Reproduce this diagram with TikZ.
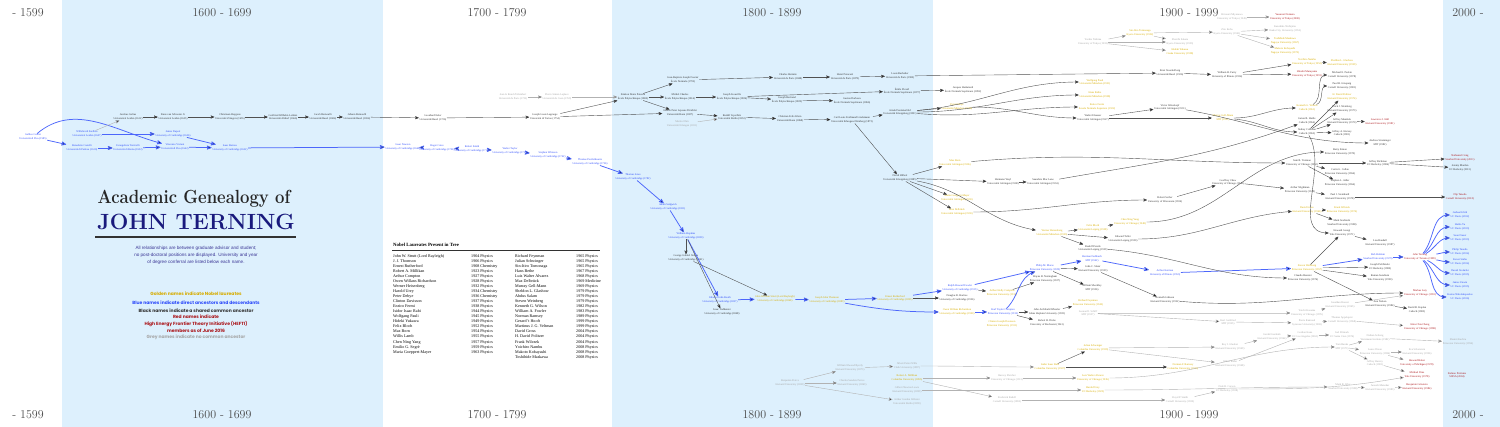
\documentclass[tikz,border=0pt]{standalone}
\usepackage{fontspec}
\newfontfamily\tnr{Liberation Serif}
\newfontfamily\keyfont{Poppins}
\newfontfamily\notefont{Liberation Sans}
\usetikzlibrary{arrows}

\definecolor{bandblue}{RGB}{221,240,253}
\definecolor{ancblue}{RGB}{45,75,250}
\definecolor{nobelgold}{RGB}{214,172,0}
\definecolor{heftired}{RGB}{170,20,25}
\definecolor{sharedgrey}{RGB}{50,50,50}
\definecolor{nonegrey}{RGB}{165,165,165}
\definecolor{titleblue}{RGB}{26,26,125}
\definecolor{notepurple}{RGB}{60,55,150}
\definecolor{headgrey}{RGB}{75,75,75}

\begin{document}
\begin{tikzpicture}[x=1pt,y=-1pt,->,>=stealth',shorten >=0.4pt]
  \tikzstyle{person}=[font=\tnr\fontsize{2.7}{3.3}\selectfont,align=center,inner sep=0.4pt]
  \tikzstyle{anc}=[person,text=ancblue]
  \tikzstyle{nobel}=[person,text=nobelgold]
  \tikzstyle{hefti}=[person,text=heftired]
  \tikzstyle{shared}=[person,text=sharedgrey]
  \tikzstyle{nocommon}=[person,text=nonegrey]
  \tikzstyle{tie}=[draw=sharedgrey!85,line width=0.4pt]
  \tikzstyle{bluetie}=[draw=ancblue!85,line width=0.75pt]
  \tikzstyle{greytie}=[draw=nonegrey!85,line width=0.4pt]
  \tikzstyle{century}=[font=\fontsize{12}{12}\selectfont,text=headgrey]
  \tikzstyle{keyline}=[font=\keyfont\bfseries\fontsize{4.5}{6.8}\selectfont,align=center]

  \useasboundingbox (0,0) rectangle (1500,427);
  \fill[bandblue] (62,0) rectangle (383,427);
  \fill[bandblue] (612,0) rectangle (933,427);
  \fill[bandblue] (1443,0) rectangle (1500,427);

  \node[century] (t1) at (28,13) {- 1599};
  \node[century] (t2) at (222,13) {1600 - 1699};
  \node[century] (t3) at (497,13) {1700 - 1799};
  \node[century] (t4) at (772,13) {1800 - 1899};
  \node[century] (t5) at (1189,13) {1900 - 1999};
  \node[century] (t6) at (1468,13) {2000 -};
  \node[century] (u1) at (28,415) {- 1599};
  \node[century] (u2) at (222,415) {1600 - 1699};
  \node[century] (u3) at (497,415) {1700 - 1799};
  \node[century] (u4) at (772,415) {1800 - 1899};
  \node[century] (u5) at (1189,415) {1900 - 1999};
  \node[century] (u6) at (1468,415) {2000 -};

  \node[font=\bfseries\fontsize{19}{19}\selectfont,text=black!85] (title) at (194,199) {\scalebox{0.88}[1]{Academic Genealogy of}};
  \node[font=\bfseries\addfontfeature{LetterSpace=2}\fontsize{22}{22}\selectfont,text=titleblue] (name) at (196,222) {JOHN TERNING};
  \draw[-,line width=1.3pt,sharedgrey] (95,237) -- (296,237);
  \node[font=\notefont\fontsize{4.6}{7}\selectfont,text=notepurple,align=center] (note) at (196,255)
    {All relationships are between graduate advisor and student;\\no post-doctoral positions are displayed. University and year\\of degree conferral are listed below each name.};
  \node[keyline,text=nobelgold] (key1) at (196,294) {Golden names indicate Nobel laureates};
  \node[keyline,text=ancblue] (key2) at (196,303) {Blue names indicate direct ancestors and descendants};
  \node[keyline,text=sharedgrey] (key3) at (196,311) {Black names indicate a shared common ancestor};
  \node[keyline,text=heftired] (key4) at (196,324) {Red names indicate\\High Energy Frontier Theory Initiative (HEFTI)\\members as of June 2016};
  \node[keyline,text=nonegrey] (key5) at (196,337) {Grey names indicate no common ancestor};

  \node[anchor=base west,inner sep=0,font=\tnr\bfseries\fontsize{4.8}{5}\selectfont] (nobelhead) at (393,246.5) {Nobel Laureates Present in Tree};
  \draw[-,line width=1.5pt,sharedgrey] (392,250.6) -- (600,250.6);
  \node[anchor=base west,inner sep=0,font=\tnr\fontsize{4.1}{5.05}\selectfont] (nobeltab) at (393,257.2) {%
    \begin{tabular}[t]{@{}p{78pt}@{}p{44pt}@{}p{61pt}@{}l@{}}
    John W. Strutt (Lord Rayleigh) & 1904 Physics & Richard Feynman & 1965 Physics\\
    J. J. Thomson & 1906 Physics & Julian Schwinger & 1965 Physics\\
    Ernest Rutherford & 1908 Chemistry & Sin-Itiro Tomonaga & 1965 Physics\\
    Robert A. Millikan & 1923 Physics & Hans Bethe & 1967 Physics\\
    Arthur Compton & 1927 Physics & Luis Walter Alvarez & 1968 Physics\\
    Owen Willans Richardson & 1928 Physics & Max Delbrück & 1969 Medicine\\
    Werner Heisenberg & 1932 Physics & Murray Gell-Mann & 1969 Physics\\
    Harold Urey & 1934 Chemistry & Sheldon L. Glashow & 1979 Physics\\
    Peter Debye & 1936 Chemistry & Abdus Salam & 1979 Physics\\
    Clinton Davisson & 1937 Physics & Steven Weinberg & 1979 Physics\\
    Enrico Fermi & 1938 Physics & Kenneth G. Wilson & 1982 Physics\\
    Isidor Isaac Rabi & 1944 Physics & William A. Fowler & 1983 Physics\\
    Wolfgang Pauli & 1945 Physics & Norman Ramsey & 1989 Physics\\
    Hideki Yukawa & 1949 Physics & Gerard 't Hooft & 1999 Physics\\
    Felix Bloch & 1952 Physics & Martinus J. G. Veltman & 1999 Physics\\
    Max Born & 1954 Physics & David Gross & 2004 Physics\\
    Willis Lamb & 1955 Physics & H. David Politzer & 2004 Physics\\
    Chen Ning Yang & 1957 Physics & Frank Wilczek & 2004 Physics\\
    Emilio G. Segrè & 1959 Physics & Yoichiro Nambu & 2008 Physics\\
    Maria Goeppert-Mayer & 1963 Physics & Makoto Kobayashi & 2008 Physics\\
     & & Toshihide Maskawa & 2008 Physics
    \end{tabular}};

  \node[anc] (a1) at (33,137) {Galileo Galilei\\Università di Pisa (1585)};
  \node[anc] (a2) at (87,134) {Willebrord Snellius\\Universiteit Leiden (1607)};
  \node[anc] (a3) at (82,148) {Benedetto Castelli\\Università di Padova (1610)};
  \node[shared] (a4) at (128,117) {Jacobus Golius\\Universiteit Leiden (1612)};
  \node[shared] (a5) at (173,117) {Frans van Schooten Jr.\\Universiteit Leiden (1635)};
  \node[shared] (a6) at (230,117) {Christiaan Huygens\\Université d'Angers (1655)};
  \node[shared] (a7) at (283,117) {Gottfried Wilhelm Leibniz\\Universität Altdorf (1666)};
  \node[shared] (a8) at (323,117) {Jacob Bernoulli\\Universität Basel (1684)};
  \node[shared] (a9) at (357,117) {Johann Bernoulli\\Universität Basel (1694)};
  \node[anc] (a10) at (173,134) {James Duport\\University of Cambridge (1626)};
  \node[anc] (a11) at (128,148) {Evangelista Torricelli\\Università di Roma (1632)};
  \node[anc] (a12) at (175,147) {Vincenzo Viviani\\Università di Pisa (1642)};
  \node[anc] (a13) at (230,148) {Isaac Barrow\\University of Cambridge (1652)};

  \node[shared] (b1) at (433,118) {Leonhard Euler\\Universität Basel (1726)};
  \node[shared] (b2) at (545,117) {Joseph Louis Lagrange\\Università di Torino (1754)};
  \node[nocommon] (b3) at (513,97) {Jean le Rond d'Alembert\\Université de Paris (1735)};
  \node[nocommon] (b4) at (557,97) {Pierre-Simon Laplace\\Université de Caen (1769)};
  \node[anc] (b5) at (403,147) {Isaac Newton\\University of Cambridge (1668)};
  \node[anc] (b6) at (437,148) {Roger Cotes\\University of Cambridge (1706)};
  \node[anc] (b7) at (472,149) {Robert Smith\\University of Cambridge (1715)};
  \node[anc] (b8) at (510,151) {Walter Taylor\\University of Cambridge (1723)};
  \node[anc] (b9) at (548,155) {Stephen Whisson\\University of Cambridge (1742)};
  \node[anc] (b10) at (590,162) {Thomas Postlethwaite\\University of Cambridge (1756)};

  \node[shared] (c1) at (633,97) {Siméon Denis Poisson\\École Polytechnique (1800)};
  \node[shared] (c2) at (680,97) {Michel Chasles\\École Polytechnique (1814)};
  \node[shared] (c3) at (732,97) {Joseph Liouville\\École Polytechnique (1836)};
  \node[shared] (c4) at (787,100) {Joseph Bertrand\\École Polytechnique (1839)};
  \node[shared] (c5) at (680,113) {Gustav Peter Lejeune Dirichlet\\Universität Bonn (1827)};
  \node[shared] (c6) at (732,117) {Rudolf Lipschitz\\Universität Berlin (1853)};
  \node[nocommon] (c7) at (682,124) {Martin Ohm\\Universität Erlangen (1811)};
  \node[shared] (c8) at (790,119) {Christian Felix Klein\\Universität Bonn (1868)};
  \node[shared] (c9) at (852,120) {Carl Louis Ferdinand Lindemann\\Universität Erlangen-Nürnberg (1873)};
  \node[shared] (c10) at (900,112) {Arnold Sommerfeld\\Universität Königsberg (1891)};
  \node[shared] (c11) at (900,178) {David Hilbert\\Universität Königsberg (1885)};
  \node[shared] (c12) at (788,77) {Charles Hermite\\Université de Paris (1848)};
  \node[shared] (c13) at (845,77) {Henri Poincaré\\Université de Paris (1879)};
  \node[shared] (c14) at (900,76) {Louis Bachelier\\Université de Paris (1900)};
  \node[shared] (c15) at (852,101) {Gaston Darboux\\École Normale Supérieure (1866)};
  \node[shared] (c16) at (902,91) {Émile Picard\\École Normale Supérieure (1877)};
  \node[shared] (c17) at (963,90) {Jacques Hadamard\\École Normale Supérieure (1892)};
  \node[anc] (c18) at (633,177) {Thomas Jones\\University of Cambridge (1782)};
  \node[anc] (c19) at (668,207) {Adam Sedgwick\\University of Cambridge (1811)};
  \node[anc] (c20) at (686,236) {William Hopkins\\University of Cambridge (1830)};
  \node[shared] (c21) at (686,258) {George Gabriel Stokes\\University of Cambridge (1841)};
  \node[anc] (c22) at (720,300) {Edward John Routh\\University of Cambridge (1857)};
  \node[shared] (c23) at (722,312) {Isaac Todhunter\\University of Cambridge (1848)};
  \node[nobel] (c24) at (775,299) {John William Strutt (Lord Rayleigh)\\University of Cambridge (1868)};
  \node[nobel] (c25) at (827,300) {Joseph John Thomson\\University of Cambridge (1883)};
  \node[nobel] (c26) at (895,298) {Ernest Rutherford\\University of Cambridge (1895)};
  \node[nocommon] (c27) at (790,383) {Benjamin Peirce\\Harvard University (1829)};
  \node[nocommon] (c28) at (850,368) {William Elwood Byerly\\Harvard University (1873)};
  \node[nocommon] (c29) at (852,383) {Charles Sanders Peirce\\Harvard University (1863)};
  \node[nocommon] (c30) at (907,366) {Albert Potter Wills\\Clark University (1897)};
  \node[nobel] (c31) at (907,378) {Robert A. Millikan\\Columbia University (1895)};
  \node[nocommon] (c32) at (907,390) {Gilbert Newton Lewis\\Harvard University (1899)};
  \node[nocommon] (c33) at (907,402) {Arthur Gordon Webster\\Universität Berlin (1890)};
  \node[shared] (c34) at (683,80) {Jean-Baptiste Joseph Fourier\\École Normale (1795)};

  \node[nobel] (d1) at (957,107) {Peter Debye\\Universität München (1908)};
  \node[nobel] (d2) at (955,163) {Max Born\\Universität Göttingen (1906)};
  \node[nobel] (d3) at (957,198) {Maria Goeppert-Mayer\\Universität Göttingen (1930)};
  \node[nobel] (d4) at (957,212) {Max Delbrück\\Universität Göttingen (1930)};
  \node[shared] (d5) at (1003,182) {Hermann Weyl\\Universität Göttingen (1908)};
  \node[shared] (d6) at (1043,182) {Saunders Mac Lane\\Universität Göttingen (1934)};
  \node[nobel] (d7) at (1052,233) {Werner Heisenberg\\Universität München (1923)};
  \node[nobel] (d8) at (1093,228) {Felix Bloch\\Universität Leipzig (1928)};
  \node[shared] (d9) at (1123,239) {Edward Teller\\Universität Leipzig (1930)};
  \node[shared] (d10) at (1093,248) {Rudolf Peierls\\Universität Leipzig (1929)};
  \node[anc] (d11) at (960,288) {Ralph Howard Fowler\\University of Cambridge (1915)};
  \node[shared] (d12) at (957,298) {Douglas R. Hartree\\University of Cambridge (1926)};
  \node[nobel] (d13) at (957,312) {Owen Willans Richardson\\University of Cambridge (1900)};
  \node[nobel] (d14) at (1002,293) {Arthur Holly Compton\\Princeton University (1916)};
  \node[anc] (d15) at (1003,312) {Karl Taylor Compton\\Princeton University (1912)};
  \node[nobel] (d16) at (1002,324) {Clinton Joseph Davisson\\Princeton University (1911)};
  \node[anc] (d17) at (1045,268) {Philip M. Morse\\Princeton University (1929)};
  \node[anc] (d18) at (1092,259) {Herman Feshbach\\MIT (1942)};
  \node[shared] (d19) at (1093,269) {John C. Slater\\Harvard University (1923)};
  \node[shared] (d20) at (1045,279) {Wayne B. Nottingham\\Princeton University (1927)};
  \node[shared] (d21) at (1092,288) {William Shockley\\MIT (1936)};
  \node[nobel] (d22) at (1088,303) {Richard Feynman\\Princeton University (1942)};
  \node[nocommon] (d23) at (1088,313) {Leonard I. Schiff\\MIT (1937)};
  \node[shared] (d24) at (1047,312) {John Archibald Wheeler\\Johns Hopkins University (1933)};
  \node[shared] (d25) at (1047,323) {Robert H. Dicke\\University of Rochester (1941)};
  \node[nobel] (d26) at (1095,82) {Wolfgang Pauli\\Universität München (1921)};
  \node[nobel] (d27) at (1095,95) {Hans Bethe\\Universität München (1928)};
  \node[nobel] (d28) at (1097,107) {Enrico Fermi\\Scuola Normale Superiore (1922)};
  \node[shared] (d29) at (1093,118) {Walter Elsasser\\Universität Göttingen (1927)};
  \node[shared] (d30) at (1170,107) {Victor Weisskopf\\Universität Göttingen (1931)};
  \node[nobel] (d31) at (1223,118) {Murray Gell-Mann\\MIT (1951)};
  \node[shared] (d32) at (1170,73) {Ernst Stueckelberg\\Universität Basel (1926)};
  \node[shared] (d33) at (1227,75) {William H. Furry\\University of Illinois (1934)};
  \node[nocommon] (d34) at (1093,42) {Yoshio Nishina\\University of Tokyo (1918)};
  \node[nobel] (d35) at (1140,33) {Sin-Itiro Tomonaga\\Kyoto University (1932)};
  \node[nocommon] (d36) at (1180,42) {Shoichi Sakata\\Kyoto University (1933)};
  \node[nobel] (d37) at (1180,52) {Hideki Yukawa\\Osaka University (1938)};
  \node[nocommon] (d38) at (1227,32) {Ziro Koba\\Kyoto University (1941)};
  \node[nocommon] (d39) at (1007,378) {Harvey Fletcher\\University of Chicago (1911)};
  \node[nocommon] (d40) at (1007,400) {Frederick Bedell\\Cornell University (1892)};
  \node[nobel] (d41) at (1050,367) {Isidor Isaac Rabi\\Columbia University (1927)};
  \node[nobel] (d42) at (1093,348) {Julian Schwinger\\Columbia University (1939)};
  \node[nobel] (d43) at (1093,378) {Luis Walter Alvarez\\University of Chicago (1936)};
  \node[nobel] (d44) at (1093,390) {Harold Urey\\UC Berkeley (1923)};
  \node[nobel] (d45) at (1183,367) {Norman F. Ramsey\\Columbia University (1940)};
  \node[nocommon] (d46) at (1230,347) {Roy J. Glauber\\Harvard University (1949)};
  \node[nocommon] (d47) at (1230,364) {Walter Kohn\\Harvard University (1948)};
  \node[nocommon] (d48) at (1180,400) {Lloyd P. Smith\\Cornell University (1930)};
  \node[nocommon] (d49) at (1227,389) {Dale R. Corson\\UC Berkeley (1938)};
  \node[nocommon] (d50) at (1232,17) {Hironari Miyazawa\\University of Tokyo (1949)};
  \node[hefti] (d51) at (1285,17) {Yasunori Nomura\\University of Tokyo (2000)};
  \node[nocommon] (d52) at (1285,29) {Kazuhiko Nishijima\\Osaka City University (1955)};
  \node[nobel] (d53) at (1285,41) {Toshihide Maskawa\\Nagoya University (1967)};
  \node[nobel] (d54) at (1285,51) {Makoto Kobayashi\\Nagoya University (1972)};
  \node[nobel] (d55) at (1130,222) {Chen Ning Yang\\University of Chicago (1948)};
  \node[shared] (d56) at (1165,200) {Robert Serber\\University of Wisconsin (1934)};
  \node[anc] (d57) at (1165,273) {Arthur Kerman\\University of Illinois (1953)};
  \node[shared] (d58) at (1228,182) {Geoffrey Chew\\University of Chicago (1948)};
  \node[shared] (d59) at (1165,300) {Kenneth Johnson\\Harvard University (1952)};
  \node[nocommon] (d60) at (1228,322) {Kurt Gottfried\\MIT (1955)};

  \node[nobel] (e1) at (1307,62) {Yoichiro Nambu\\University of Tokyo (1952)};
  \node[nobel] (e2) at (1342,63) {Sheldon L. Glashow\\Harvard University (1959)};
  \node[hefti] (e3) at (1307,74) {Hitoshi Murayama\\University of Tokyo (1991)};
  \node[shared] (e4) at (1342,75) {Michael E. Peskin\\Cornell University (1978)};
  \node[shared] (e5) at (1342,86) {Paul H. Ginsparg\\Cornell University (1981)};
  \node[nobel] (e6) at (1342,97) {H. David Politzer\\Harvard University (1974)};
  \node[shared] (e7) at (1342,109) {Erick J. Weinberg\\Harvard University (1973)};
  \node[shared] (e8) at (1342,121) {Jeffrey Mandula\\Harvard University (1970)};
  \node[hefti] (e9) at (1380,122) {Lawrence J. Hall\\Harvard University (1981)};
  \node[shared] (e10) at (1342,133) {Jeffrey A. Harvey\\Caltech (1981)};
  \node[nobel] (e11) at (1307,108) {Kenneth G. Wilson\\Caltech (1961)};
  \node[shared] (e12) at (1307,121) {James B. Hartle\\Caltech (1964)};
  \node[shared] (e13) at (1307,132) {Sidney Coleman\\Caltech (1962)};
  \node[shared] (e14) at (1380,143) {Andrew Strominger\\MIT (1982)};
  \node[shared] (e15) at (1340,152) {Barry Simon\\Princeton University (1970)};
  \node[shared] (e16) at (1302,163) {Sam B. Treiman\\University of Chicago (1952)};
  \node[shared] (e17) at (1378,163) {Jeffrey Richman\\UC Berkeley (1986)};
  \node[hefti] (e18) at (1460,158) {Nathaniel Craig\\Stanford University (2011)};
  \node[shared] (e19) at (1460,168) {Jeremy Mardon\\UC Berkeley (2011)};
  \node[shared] (e20) at (1340,172) {Curtis G. Callan\\Princeton University (1964)};
  \node[shared] (e21) at (1340,183) {Stephen L. Adler\\Princeton University (1964)};
  \node[shared] (e22) at (1300,190) {Arthur Wightman\\Princeton University (1949)};
  \node[shared] (e23) at (1340,197) {Paul J. Steinhardt\\Harvard University (1978)};
  \node[hefti] (e24) at (1460,197) {Flip Tanedo\\Cornell University (2013)};
  \node[nobel] (e25) at (1307,210) {David Gross\\Harvard University (1966)};
  \node[nobel] (e26) at (1342,210) {Frank Wilczek\\Princeton University (1974)};
  \node[shared] (e27) at (1342,223) {Mark Srednicki\\Stanford University (1980)};
  \node[shared] (e28) at (1342,233) {Howard Georgi\\Yale University (1971)};
  \node[shared] (e29) at (1380,243) {Lisa Randall\\Harvard University (1987)};
  \node[nobel] (e30) at (1307,268) {Steven Weinberg\\Princeton University (1957)};
  \node[anc] (e31) at (1378,257) {Bob Holdom\\Stanford University (1979)};
  \node[hefti] (e32) at (1420,257) {John Terning\\University of Toronto (1989)};
  \node[anc] (e33) at (1460,215) {Joshua Erlich\\UC Davis (2012)};
  \node[anc] (e34) at (1460,227) {Haibo Yu\\UC Davis (2013)};
  \node[anc] (e35) at (1460,238) {Sean Fraser\\UC Davis (2013)};
  \node[anc] (e36) at (1460,252) {Philip Tanedo\\UC Davis (2014)};
  \node[anc] (e37) at (1460,262) {Kuver Sinha\\UC Davis (2014)};
  \node[anc] (e38) at (1460,273) {Daniel Stolarski\\UC Davis (2015)};
  \node[anc] (e39) at (1460,285) {James Unwin\\UC Davis (2015)};
  \node[anc] (e40) at (1460,297) {Kostas Nikolakopoulos\\UC Davis (2016)};
  \node[shared] (e41) at (1380,267) {Joseph Polchinski\\UC Berkeley (1980)};
  \node[shared] (e42) at (1380,278) {Raman Sundrum\\Yale University (1990)};
  \node[shared] (e43) at (1303,278) {Claudio Bunster\\Princeton University (1976)};
  \node[hefti] (e44) at (1420,293) {Markus Luty\\University of Chicago (1991)};
  \node[shared] (e45) at (1380,304) {Ann Nelson\\Harvard University (1984)};
  \node[shared] (e46) at (1417,310) {David B. Kaplan\\Caltech (1983)};
  \node[nocommon] (e47) at (1340,305) {Jonathan Rosner\\Harvard University (1965)};
  \node[nocommon] (e48) at (1307,313) {Yoichi Kazama\\University of Chicago (1976)};
  \node[nocommon] (e49) at (1307,323) {Pierre Ramond\\Syracuse University (1969)};
  \node[nocommon] (e50) at (1342,320) {Thomas Appelquist\\Cornell University (1968)};
  \node[hefti] (e51) at (1420,327) {Hsin-Chia Cheng\\University of Chicago (1998)};
  \node[nocommon] (e52) at (1272,337) {Gerald Guralnik\\Harvard University (1964)};
  \node[nocommon] (e53) at (1305,335) {Gordon Kane\\UC Los Angeles (1963)};
  \node[nocommon] (e54) at (1342,335) {Joel Primack\\UC Santa Cruz (1976)};
  \node[nocommon] (e55) at (1342,347) {Tom Banks\\MIT (1973)};
  \node[nocommon] (e56) at (1375,338) {Nathan Seiberg\\Weizmann Institute (1982)};
  \node[nocommon] (e57) at (1375,352) {Lance Dixon\\Princeton University (1986)};
  \node[nocommon] (e58) at (1375,363) {Jeffrey Harvey\\Caltech (1981)};
  \node[nocommon] (e59) at (1417,352) {Eva Silverstein\\Harvard University (1996)};
  \node[hefti] (e60) at (1417,363) {Howard Haber\\University of Michigan (1978)};
  \node[nocommon] (e61) at (1458,342) {Shamit Kachru\\Princeton University (1994)};
  \node[hefti] (e62) at (1417,375) {Michael Dine\\Yale University (1978)};
  \node[hefti] (e63) at (1457,375) {Stefano Profumo\\SISSA (2004)};
  \node[nocommon] (e64) at (1343,387) {Mark B. Wise\\Stanford University (1980)};
  \node[nocommon] (e65) at (1380,388) {Aneesh Manohar\\Harvard University (1983)};
  \node[hefti] (e66) at (1417,387) {Benjamin Grinstein\\Harvard University (1984)};

  \path[bluetie]
  (a1) edge (a3)
  (a3) edge (a11)
  (a11) edge (a12)
  (a1) edge[out=40,in=165] (a12)
  (a12) edge (a13)
  (a2) edge (a10)
  (a10) edge (a13)
  (a13) edge (b5)
  (b5) edge (b6)
  (b6) edge (b7)
  (b7) edge (b8)
  (b8) edge (b9)
  (b9) edge (b10)
  (b10) edge (c18)
  (c18) edge (c19)
  (c19) edge (c20)
  (c20) edge (c22)
  (c22) edge (c24)
  (c24) edge (c25)
  (c25) edge (c26)
  (c26) edge (d11)
  (c25) edge[out=-10,in=180] (d13)
  (d13) edge (d15)
  (d11) edge (d17)
  (d15) edge[out=45,in=200] (d17)
  (d17) edge (d18)
  (d18) edge (d57)
  (d57) edge (e30)
  (e30) edge (e31)
  (e31) edge (e32)
  (e32) edge[out=50,in=180] (e33)
  (e32) edge[out=40,in=180] (e34)
  (e32) edge[out=30,in=180] (e35)
  (e32) edge[out=10,in=180] (e36)
  (e32) edge[out=-10,in=180] (e37)
  (e32) edge[out=-25,in=180] (e38)
  (e32) edge[out=-40,in=180] (e39)
  (e32) edge[out=-50,in=180] (e40);

  \path[tie]
  (a4) edge (a5)
  (a5) edge (a6)
  (a6) edge (a7)
  (a7) edge (a8)
  (a8) edge (a9)
  (a9) edge (b1)
  (b1) edge (b2)
  (b2) edge (c1)
  (b2) edge (c5)
  (c1) edge (c2)
  (c2) edge (c3)
  (c1) edge (c5)
  (c1) edge (c34)
  (c34) edge (c12)
  (c5) edge (c6)
  (c6) edge (c8)
  (c8) edge (c9)
  (c9) edge (c10)
  (c9) edge (c11)
  (c12) edge (c13)
  (c13) edge (c14)
  (c3) edge (c4)
  (c4) edge (c15)
  (c3) edge (c16)
  (c16) edge (c17)
  (c10) edge (d1)
  (c10) edge[out=5,in=180] (d26)
  (c10) edge[out=0,in=180] (d27)
  (c10) edge[out=-5,in=180] (d28)
  (c11) edge (d2)
  (c11) edge (d5)
  (d5) edge (d6)
  (c11) edge (d3)
  (c11) edge (d4)
  (c11) edge[out=-10,in=170] (d7)
  (d7) edge (d8)
  (d7) edge (d9)
  (d7) edge (d10)
  (c20) edge (c21)
  (c21) edge (c24)
  (c20) edge (c23)
  (d11) edge (d14)
  (c26) edge (d12)
  (d14) edge (d20)
  (d15) edge (d24)
  (d15) edge (d25)
  (d24) edge (d22)
  (d17) edge (d19)
  (d17) edge (d21)
  (d1) edge[out=0,in=180] (d29)
  (d29) edge (d30)
  (d29) edge (d31)
  (c14) edge (d32)
  (d32) edge (d33)
  (d33) edge (e1)
  (d33) edge (e3)
  (e1) edge (e2)
  (d31) edge[out=0,in=180] (e11)
  (d31) edge[out=-5,in=180] (e13)
  (e11) edge[out=30,in=180] (e4)
  (e11) edge[out=20,in=180] (e5)
  (e13) edge (e6)
  (e13) edge (e7)
  (e13) edge (e8)
  (e13) edge (e10)
  (e8) edge (e9)
  (e13) edge[out=-60,in=180] (e28)
  (e16) edge (e17)
  (e16) edge (e20)
  (e16) edge (e21)
  (e17) edge (e18)
  (e17) edge (e19)
  (e22) edge (e23)
  (e23) edge (e24)
  (e25) edge (e26)
  (e25) edge (e27)
  (e28) edge (e29)
  (e30) edge (e28)
  (e30) edge (e41)
  (e30) edge (e42)
  (e30) edge (e45)
  (e45) edge (e46)
  (d41) edge (d42)
  (d41) edge (d45)
  (d8) edge (d55)
  (d4) edge[out=0,in=180] (d56)
  (d56) edge (d58)
  (d58) edge (e22)
  (d2) edge[out=5,in=180] (e16)
  (d6) edge[out=10,in=200] (e12)
  (d30) edge[out=-10,in=180] (e14)
  (d9) edge[out=0,in=185] (e25)
  (d10) edge[out=-5,in=180] (e43)
  (d19) edge (d59)
  (d59) edge[out=-5,in=180] (e44)
  (d55) edge[out=0,in=180] (e15);

  \path[greytie]
  (a2) edge (a4)
  (b3) edge (b4)
  (b4) edge (c1)
  (c7) edge (c6)
  (c27) edge (c28)
  (c27) edge (c29)
  (c27) edge (c33)
  (c28) edge (c30)
  (c30) edge[out=0,in=180] (d41)
  (c31) edge (d39)
  (c31) edge (d40)
  (c32) edge (d44)
  (d39) edge (d43)
  (d40) edge (d48)
  (d48) edge (d49)
  (d42) edge (d46)
  (d42) edge (d47)
  (d34) edge (d35)
  (d34) edge (d36)
  (d34) edge (d37)
  (d35) edge (d36)
  (d35) edge (d38)
  (d38) edge (d52)
  (d38) edge (d53)
  (d38) edge (d54)
  (d50) edge (d51)
  (d23) edge (d60)
  (d60) edge (e49)
  (d23) edge[out=0,in=180] (e48)
  (d43) edge[out=0,in=180] (e55)
  (d44) edge[out=0,in=180] (e64)
  (d46) edge (e52)
  (d47) edge (e53)
  (d49) edge[out=0,in=190] (e62)
  (e52) edge (e53)
  (e53) edge (e54)
  (e55) edge (e56)
  (e55) edge (e57)
  (e55) edge (e58)
  (e57) edge (e59)
  (e57) edge (e60)
  (e58) edge (e62)
  (e56) edge (e61)
  (e48) edge (e47)
  (e49) edge (e50)
  (e50) edge (e51)
  (e47) edge (e44)
  (e64) edge (e65)
  (e65) edge (e66);
\end{tikzpicture}
\end{document}
